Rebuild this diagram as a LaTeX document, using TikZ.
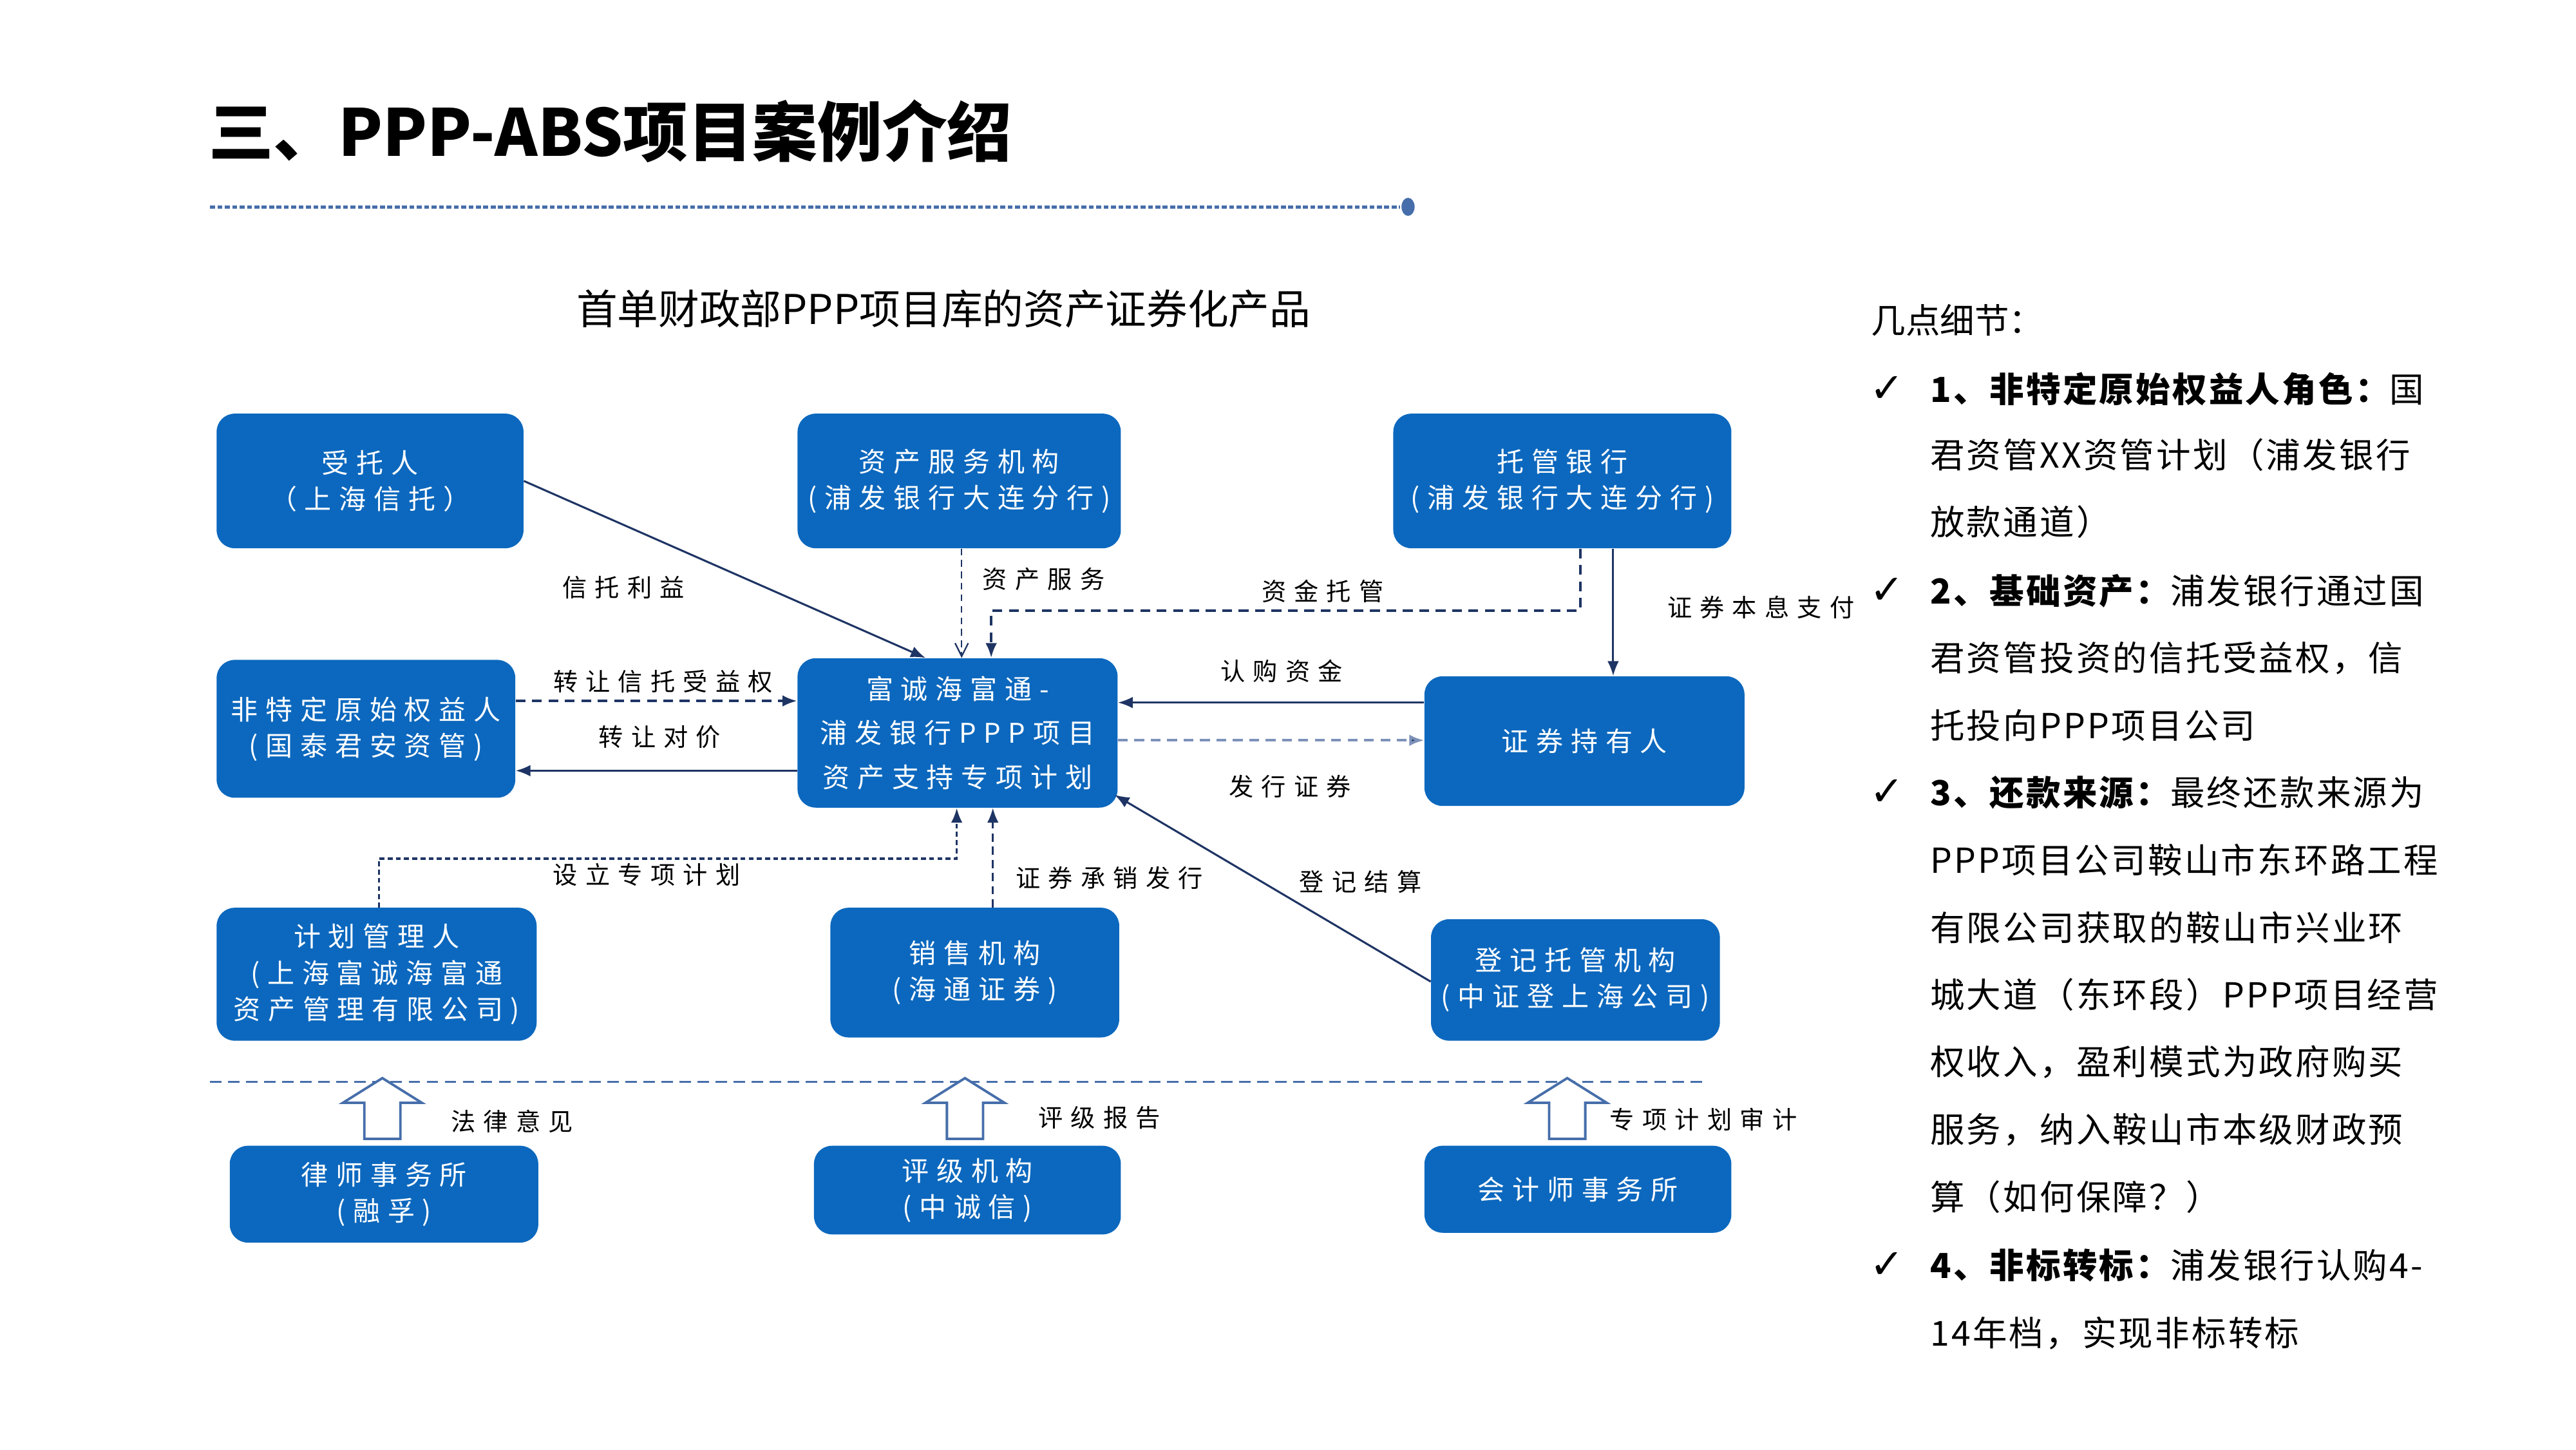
\documentclass[tikz,border=0pt]{standalone}
\usepackage{fontspec}
\setmainfont{Noto Sans CJK SC}
\newfontfamily\cjk{Noto Sans CJK SC}
\newfontfamily\cjkbox{Noto Sans CJK SC}[LetterSpace=28]
\newfontfamily\cjklab{Noto Sans CJK SC}[LetterSpace=32]
\newfontfamily\cjktxt{Noto Sans CJK SC}[LetterSpace=6]
\newfontfamily\symf{DejaVu Sans}
\usetikzlibrary{arrows.meta,calc}
\definecolor{boxblue}{RGB}{12,104,190}
\definecolor{navy}{RGB}{30,52,100}
\definecolor{steel}{RGB}{70,110,170}
\definecolor{lightdash}{RGB}{125,145,185}
\begin{document}
\begin{tikzpicture}[x=1pt,y=-1pt,
  box/.style={rounded corners=11pt, fill=boxblue, text=white, align=center, inner sep=0pt, font=\cjkbox\fontsize{16.5}{22}\selectfont},
  lab/.style={font=\cjklab\fontsize{15}{18}\selectfont, inner sep=0pt, text=black},
  tip/.style={-{Latex[length=9pt,width=7pt]}},
  solidarr/.style={draw=navy, line width=1.2pt, tip},
  dasharr/.style={draw=navy, line width=1.6pt, dash pattern=on 6pt off 4pt, tip},
  thindash/.style={draw=navy, line width=0.9pt, dash pattern=on 4pt off 3pt},
  lightarr/.style={draw=lightdash, line width=1.6pt, dash pattern=on 6pt off 4pt, -{Latex[length=9pt,width=7pt,fill=navy]}},
  txt/.style={anchor=west, inner sep=0pt, font=\cjktxt\fontsize{21}{24}\selectfont},
  chk/.style={anchor=west, inner sep=0pt, font=\symf\bfseries\fontsize{25}{28}\selectfont},
  blockarr/.style={draw=steel, line width=1.5pt, fill=white, line join=miter}
]
\useasboundingbox (0,0) rectangle (1569.7,883);
\fill[white] (0,0) rectangle (1569.7,883);

% title
\node[anchor=west, inner sep=0pt, font=\cjk\bfseries\fontsize{39.5}{46}\selectfont] (title) at (127,80) {三、PPP-ABS项目案例介绍};
\coordinate (tl1) at (128,126);
\coordinate (tl2) at (853,126);
\draw[steel, line width=2pt, dash pattern=on 3pt off 1.5pt] (tl1) -- (tl2);
\fill[steel] (858,126) ellipse (4pt and 5.5pt);

% subtitle
\node[inner sep=0pt, font=\cjk\fontsize{25}{30}\selectfont] (sub) at (575,188) {首单财政部PPP项目库的资产证券化产品};

% boxes
\node[box, minimum width=187pt, minimum height=82pt] (trustee) at (225.5,293) {受托人\\（上海信托）};
\node[box, minimum width=197pt, minimum height=82pt] (service) at (584.5,293) {资产服务机构\\(浦发银行大连分行)};
\node[box, minimum width=206pt, minimum height=82pt] (custody) at (952,293) {托管银行\\(浦发银行大连分行)};
\node[box, minimum width=182pt, minimum height=84pt] (orig) at (223,444) {非特定原始权益人\\(国泰君安资管)};
\node[box, minimum width=195pt, minimum height=91pt, font=\cjkbox\fontsize{16.5}{27}\selectfont] (plan) at (583.5,446.5) {富诚海富通-\\浦发银行PPP项目\\资产支持专项计划};
\node[box, minimum width=195pt, minimum height=79pt] (holder) at (965.5,451.5) {证券持有人};
\node[box, minimum width=195pt, minimum height=81pt] (mgr) at (229.5,593.5) {计划管理人\\(上海富诚海富通\\资产管理有限公司)};
\node[box, minimum width=176pt, minimum height=79pt] (sales) at (594,592.5) {销售机构\\(海通证券)};
\node[box, minimum width=176pt, minimum height=74pt] (registry) at (960,597) {登记托管机构\\(中证登上海公司)};
\node[box, minimum width=188pt, minimum height=59pt] (law) at (234,727.5) {律师事务所\\(融孚)};
\node[box, minimum width=187pt, minimum height=54pt] (rating) at (589.5,725) {评级机构\\(中诚信)};
\node[box, minimum width=187pt, minimum height=53pt] (audit) at (961.5,724.5) {会计师事务所};

% connectors
\draw[solidarr] (trustee.east) -- ($(plan.north west)!0.4!(plan.north east)$);
\draw[thindash, -{Straight Barb[length=8pt,width=8pt]}] ([xshift=1.5pt]service.south) -- ([xshift=2.5pt]plan.north);
\coordinate (tg) at (604,372);
\draw[dasharr] ([xshift=11pt]custody.south) |- (tg) -- (tg |- plan.north);
\coordinate (pay) at ([xshift=31pt]custody.south);
\draw[solidarr] (pay) -- (pay |- holder.north);
\coordinate (t1) at ([yshift=17pt]orig.east);
\draw[dasharr] (t1) -- (t1 -| plan.west);
\coordinate (t2) at ([yshift=-23pt]plan.west);
\draw[solidarr] (t2) -- (t2 -| orig.east);
\coordinate (h1) at ([yshift=23.5pt]holder.west);
\draw[solidarr] (h1) -- (h1 -| plan.east);
\coordinate (h2) at ([yshift=-4.5pt]plan.east);
\draw[lightarr] (h2) -- (h2 -| holder.west);
\draw[solidarr] ([yshift=-1pt]registry.west) -- ([shift={(-2pt,8pt)}]plan.south east);
\coordinate (s1) at (583,523);
\draw[dasharr, line width=1.4pt, dash pattern=on 3pt off 2pt] ([xshift=1.5pt]mgr.north) |- (s1) -- (s1 |- plan.south);
\coordinate (s2) at ([xshift=11pt]sales.north);
\draw[dasharr, line width=1.2pt, dash pattern=on 5pt off 3pt] (s2) -- (s2 |- plan.south);

% separator
\coordinate (sepL) at (128,659);
\coordinate (sepR) at (1040,659);
\draw[steel, line width=1.4pt, dash pattern=on 7pt off 4pt] (sepL) -- (sepR);

% block arrows
\foreach \n/\dx in {law/-1, rating/-1.5, audit/-6.5} {
  \path ([xshift=\dx pt, yshift=4pt]\n.north) coordinate (b);
  \draw[blockarr] ($(b)+(-11,0)$) -- ($(b)+(-11,-22)$) -- ($(b)+(-24,-22)$) -- ($(b)+(0,-37)$) -- ($(b)+(24,-22)$) -- ($(b)+(11,-22)$) -- ($(b)+(11,0)$) -- cycle;
}

% labels
\node[lab] (l1) at (380,358) {信托利益};
\node[lab] (l2) at (636,353) {资产服务};
\node[lab] (l3) at (806,360) {资金托管};
\node[lab] (l4) at (1073,370) {证券本息支付};
\node[lab] (l5) at (404,415) {转让信托受益权};
\node[lab] (l6) at (402,449) {转让对价};
\node[lab] (l7) at (781,409) {认购资金};
\node[lab] (l8) at (786,479) {发行证券};
\node[lab] (l9) at (394,533) {设立专项计划};
\node[lab] (l10) at (676,535) {证券承销发行};
\node[lab] (l11) at (829,537) {登记结算};
\node[lab] (l12) at (312,683) {法律意见};
\node[lab] (l13) at (670,681) {评级报告};
\node[lab] (l14) at (1038,682) {专项计划审计};

% right column
\node[anchor=west, inner sep=0pt, font=\cjk\fontsize{21}{24}\selectfont] (hd) at (1140,195) {几点细节：};
\node[chk] (c1) at (1139,237) {✓};
\node[chk] (c2) at (1139,360) {✓};
\node[chk] (c3) at (1139,483) {✓};
\node[chk] (c4) at (1139,771) {✓};
\node[txt] (r1) at (1176,237) {{\bfseries 1、非特定原始权益人角色：}国};
\node[txt] (r2) at (1176,277) {君资管XX资管计划（浦发银行};
\node[txt] (r3) at (1176,318) {放款通道）};
\node[txt] (r4) at (1176,360) {{\bfseries 2、基础资产：}浦发银行通过国};
\node[txt] (r5) at (1176,401) {君资管投资的信托受益权，信};
\node[txt] (r6) at (1176,442) {托投向PPP项目公司};
\node[txt] (r7) at (1176,483) {{\bfseries 3、还款来源：}最终还款来源为};
\node[txt] (r8) at (1176,524) {PPP项目公司鞍山市东环路工程};
\node[txt] (r9) at (1176,565) {有限公司获取的鞍山市兴业环};
\node[txt] (r10) at (1176,606) {城大道（东环段）PPP项目经营};
\node[txt] (r11) at (1176,647) {权收入，盈利模式为政府购买};
\node[txt] (r12) at (1176,688) {服务，纳入鞍山市本级财政预};
\node[txt] (r13) at (1176,729) {算（如何保障？）};
\node[txt] (r14) at (1176,771) {{\bfseries 4、非标转标：}浦发银行认购4-};
\node[txt] (r15) at (1176,812) {14年档，实现非标转标};
\end{tikzpicture}
\end{document}
